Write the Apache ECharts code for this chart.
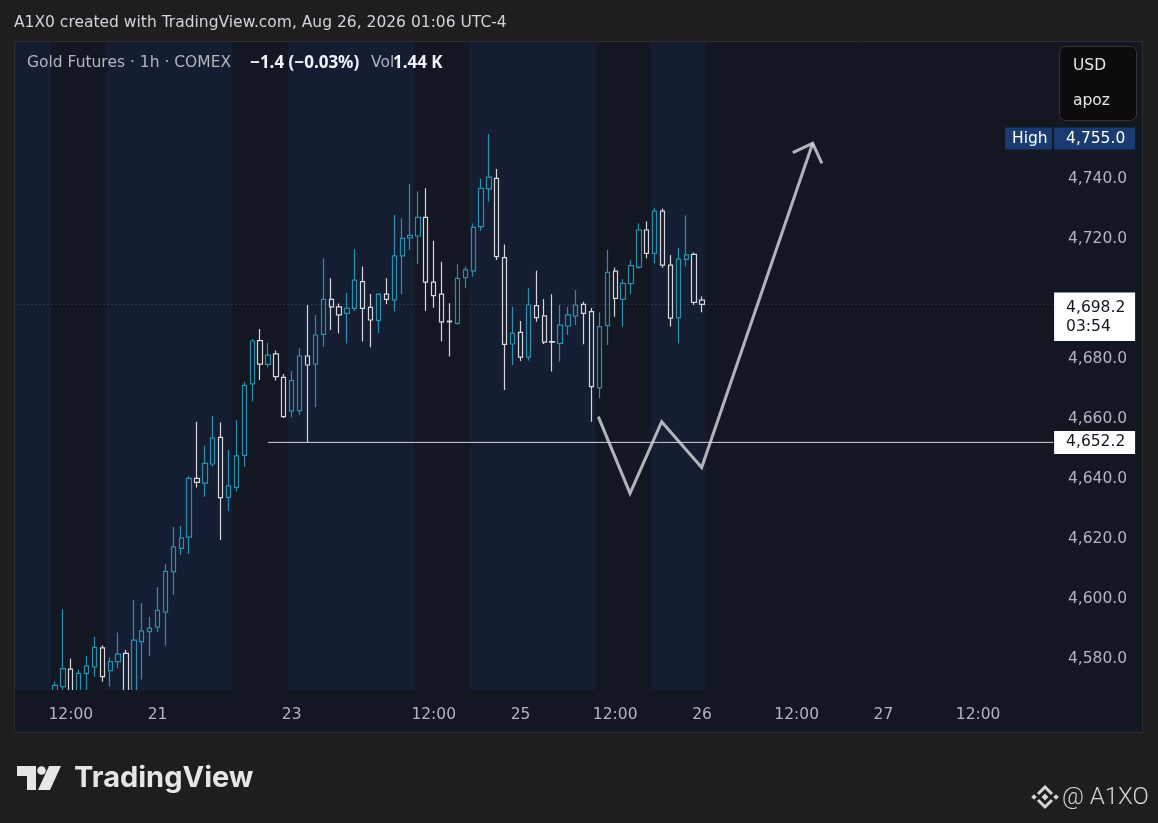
<!DOCTYPE html>
<html><head><meta charset="utf-8">
<script src="https://cdn.jsdelivr.net/npm/echarts@6/dist/echarts.min.js"></script>
<style>html,body{margin:0;padding:0;background:#1e1e1e;}#c{width:1158px;height:823px;}</style>
</head><body><div id="c"></div>
<script>
// ---------------- DATA ----------------
const firstCategory = [2026, 8, 20, 6];   // y, m, d, hour of first slot on the time axis
const categoryCount = 131;
const firstCandleTime = '08-20 10:00';
const opens  = [4567.0,4570.8,4576.6,4567.0,4575.2,4577.4,4583.7,4576.1,4579.1,4581.9,4567.5,4585.8,4589.1,4590.6,4595.6,4609.1,4616.9,4620.6,4640.2,4638.6,4645.0,4653.9,4633.9,4637.2,4647.9,4671.7,4686.1,4678.2,4681.7,4673.9,4662.7,4662.8,4681.0,4678.3,4688.2,4699.9,4697.4,4695.2,4696.9,4705.8,4697.2,4692.9,4701.6,4699.7,4714.4,4720.4,4721.0,4727.2,4705.6,4701.6,4692.6,4691.9,4707.1,4709.4,4724.1,4736.7,4740.2,4713.8,4685.0,4688.9,4680.6,4697.8,4694.4,4685.8,4685.2,4691.0,4694.3,4698.2,4695.8,4670.4,4691.1,4709.3,4699.9,4705.1,4710.6,4723.0,4715.2,4729.3,4711.3,4693.8,4713.2,4714.9,4699.6];
const closes = [4571.2,4576.8,4566.5,4575.2,4577.7,4583.9,4574.1,4579.1,4581.6,4567.5,4586.3,4589.4,4590.3,4596.2,4609.2,4617.4,4620.4,4640.2,4638.9,4645.2,4653.6,4633.8,4637.7,4647.7,4671.2,4686.0,4678.3,4681.3,4674.1,4660.8,4672.8,4681.0,4678.0,4688.0,4699.9,4697.4,4694.7,4696.9,4706.3,4696.9,4693.0,4701.6,4699.9,4714.4,4720.2,4721.2,4727.2,4705.6,4701.1,4692.4,4692.4,4706.9,4709.7,4723.9,4736.9,4740.6,4714.1,4684.9,4688.6,4680.6,4698.0,4693.8,4685.6,4685.6,4691.3,4694.7,4698.0,4695.2,4670.8,4690.8,4708.9,4700.2,4705.2,4711.1,4723.0,4715.2,4729.3,4711.3,4693.6,4713.3,4714.7,4698.9,4698.2];
const lows   = [4566.0,4569.5,4564.0,4565.0,4569.5,4574.1,4572.4,4570.8,4576.9,4565.0,4566.0,4573.2,4581.0,4589.0,4584.4,4601.3,4614.7,4615.0,4637.2,4634.1,4644.1,4619.7,4629.3,4635.8,4644.1,4665.8,4673.0,4677.2,4672.8,4660.3,4660.5,4661.3,4652.2,4663.9,4684.1,4689.7,4688.6,4685.2,4696.0,4685.8,4683.9,4688.6,4698.3,4695.8,4701.7,4716.3,4711.7,4696.0,4697.1,4685.8,4680.8,4691.5,4703.6,4707.4,4722.7,4732.4,4713.0,4669.7,4678.0,4679.3,4679.5,4692.4,4685.0,4675.8,4679.1,4688.0,4691.3,4684.9,4659.1,4666.9,4684.7,4694.1,4690.8,4701.6,4710.0,4713.6,4711.9,4710.4,4690.8,4685.2,4710.8,4698.0,4695.6];
const highs  = [4572.5,4596.6,4580.2,4576.5,4581.0,4587.4,4584.6,4580.5,4588.8,4583.0,4599.7,4598.6,4594.1,4603.9,4611.7,4624.1,4624.3,4641.0,4659.1,4651.1,4661.0,4658.8,4649.7,4659.7,4672.4,4686.6,4690.0,4685.4,4682.8,4675.0,4676.0,4683.6,4698.0,4694.7,4713.6,4706.9,4698.5,4702.1,4716.6,4710.8,4701.7,4702.0,4706.9,4728.0,4726.9,4738.3,4735.8,4736.9,4719.4,4712.4,4698.6,4711.6,4710.8,4725.2,4740.2,4755.0,4743.3,4718.2,4697.4,4692.7,4703.6,4709.4,4700.0,4701.6,4698.0,4697.4,4703.0,4699.1,4697.0,4695.6,4716.3,4710.5,4706.7,4713.0,4725.2,4725.8,4730.4,4730.2,4714.7,4717.1,4727.8,4715.5,4700.8];
const yTicks = [4580, 4600, 4620, 4640, 4660, 4680, 4720, 4740];
const xTickTimes = ['08-20 12:00','08-21 00:00','08-23 18:00','08-24 12:00','08-25 00:00','08-25 12:00','08-26 00:00','08-26 12:00','08-27 00:00','08-27 12:00'];
const supportLevel = 4652.2;
const supportAnchorTime = '08-21 14:00';
const lastPrice = 4698.2;
const countdown = '03:54';
const highPrice = 4755.0;
// hand-drawn projection: [slot position on time axis, price]
const zigzagPath = [[72.86,4660.8],[76.88,4635.2],[80.89,4659.1],[85.96,4643.8],[100.03,4751.9]];
const arrowHeadPath = [[97.5,4748.8],[100.03,4751.9],[101.2,4745.2]];
const yMin = 4569.667, yMax = 4785.667;

// ---------------- BUILD ----------------
const pad = n => String(n).padStart(2,'0');
function buildCategories(){
  const out = [];
  let t = Date.UTC(firstCategory[0], firstCategory[1]-1, firstCategory[2], firstCategory[3]);
  while (out.length < categoryCount) {
    const d = new Date(t), h = d.getUTCHours(), wd = d.getUTCDay();
    const closed = h === 17 || wd === 6 || (wd === 5 && h >= 17) || (wd === 0 && h < 18);
    if (!closed) out.push(pad(d.getUTCMonth()+1)+'-'+pad(d.getUTCDate())+' '+pad(h)+':00');
    t += 3600e3;
  }
  return out;
}
const categories = buildCategories();
const firstIdx = categories.indexOf(firstCandleTime);
const lastIdx = firstIdx + opens.length - 1;
const candleData = opens.map((o,k)=>[categories[firstIdx+k], o, closes[k], lows[k], highs[k]]);

// session shading (light = outside 10:00-16:59), only where bars exist
const bands = [];
let runStart = null;
for (let i = 0; i <= lastIdx + 1; i++) {
  const h = i <= lastIdx ? parseInt(categories[i].slice(6,8),10) : 10;
  const light = !(h >= 10 && h <= 16);
  if (light && runStart === null) runStart = i;
  if (!light && runStart !== null) { bands.push([{xAxis: runStart-0.5}, {xAxis: i-0.5}]); runStart = null; }
}

const FONT = 'DejaVu Sans';
const TXT = '#b2b5be';
const UP = '#2790ad', DOWN = '#d6d8de';
const PANEL = '#131722', BAND = '#151d33';
const fmtPrice = v => v.toLocaleString('en-US',{minimumFractionDigits:1, maximumFractionDigits:1});

const chart = echarts.init(document.getElementById('c'));
const supportStart = categories.indexOf(supportAnchorTime);

chart.setOption({
  animation: false,
  backgroundColor: '#1e1e1e',
  grid: {left: 19.5, right: 104.9, top: 42, bottom: 133, containLabel: false},
  xAxis: [{
    type: 'category', data: categories, boundaryGap: true, z: 30,
    axisLine: {show:false}, axisTick: {show:false}, splitLine:{show:false},
    axisLabel: {
      interval: (idx, val) => xTickTimes.indexOf(val) >= 0,
      formatter: v => v.slice(6) === '12:00' ? '12:00' : String(parseInt(v.slice(3,5),10)),
      color: TXT, fontFamily: FONT, fontSize: 15.5, margin: 17, hideOverlap: false
    }
  },{
    type: 'value', min: -0.5, max: categoryCount - 0.5, show: false
  }],
  yAxis: [{
    type: 'value', position: 'right', min: yMin, max: yMax, scale: true, z: 30,
    axisLine: {show:false}, axisTick: {show:false}, splitLine: {show:false},
    axisLabel: {
      customValues: yTicks, formatter: v => fmtPrice(v),
      color: TXT, fontFamily: FONT, fontSize: 15.5, align: 'right', margin: 74
    }
  }],
  series: [
    {
      name: 'sessions', type: 'line', xAxisIndex: 1, yAxisIndex: 0, z: 1, silent: true,
      data: [[0, 4600]], showSymbol: false, lineStyle: {opacity: 0},
      markArea: {silent: true, itemStyle: {color: BAND}, data: bands}
    },
    {
      name: 'Gold Futures', type: 'candlestick', xAxisIndex: 0, yAxisIndex: 0, z: 3,
      encode: {x: 0, y: [1,2,3,4]},
      data: candleData, barWidth: 4.8, clip: true,
      itemStyle: {color: 'rgba(0,0,0,0)', color0: 'rgba(0,0,0,0)', borderColor: UP, borderColor0: DOWN, borderWidth: 1.2},
      markLine: {
        silent: true, symbol: ['none','none'], label: {show:false},
        lineStyle: {type: [1,3], color: 'rgba(178,181,190,0.3)', width: 1},
        data: [{yAxis: lastPrice}]
      }
    },
    {
      name: 'support', type: 'line', xAxisIndex: 1, yAxisIndex: 0, z: 4, silent: true,
      showSymbol: false, lineStyle: {color: '#d1d4dc', width: 1},
      data: [[supportStart, supportLevel], [categoryCount - 0.5, supportLevel]]
    },
    {
      name: 'projection', type: 'line', xAxisIndex: 1, yAxisIndex: 0, z: 5, silent: true,
      showSymbol: false, lineStyle: {color: 'rgba(205,207,214,0.85)', width: 3, join: 'miter', cap: 'butt'},
      data: zigzagPath
    },
    {
      name: 'arrow', type: 'line', xAxisIndex: 1, yAxisIndex: 0, z: 5, silent: true,
      showSymbol: false, lineStyle: {color: 'rgba(205,207,214,0.85)', width: 3, join: 'miter'},
      data: arrowHeadPath
    }
  ]
});

// ---------- price-scale labels, header, footer ----------
const yp = v => chart.convertToPixel({yAxisIndex: 0}, v);
const plotLeft = chart.convertToPixel({xAxisIndex: 1}, -0.5);
const plotRight = chart.convertToPixel({xAxisIndex: 1}, categoryCount - 0.5);
const plotBottom = yp(yMin);
const bx = plotRight + 1, bw = 81, tx = plotRight + 13;
const yLast = yp(lastPrice), ySup = yp(supportLevel), yHigh = yp(highPrice);

chart.setOption({
  graphic: [
    {type:'rect', z:-10, shape:{x:14.5,y:41.5,width:1128,height:691}, style:{fill:PANEL, stroke:'#2b2e37', lineWidth:1}},
    // left sliver of the first shaded session
    {type:'rect', z:-9, shape:{x:15,y:42,width:plotLeft-15,height:plotBottom-42}, style:{fill:BAND}},
    // time-scale strip (hides candle parts below the plot)
    {type:'rect', z:25, shape:{x:15,y:plotBottom,width:plotRight-15,height:732-plotBottom}, style:{fill:PANEL}},
    {type:'text', x:14, y:23, style:{text:'A1X0 created with TradingView.com, Aug 26, 2026 01:06 UTC-4', fill:'#d1d4dc', fontFamily:FONT, fontSize:15.5, verticalAlign:'middle'}},
    {type:'text', x:27, y:63, z:20, style:{text:'Gold Futures · 1h · COMEX', fill:TXT, fontFamily:FONT, fontSize:15.5, verticalAlign:'middle'}},
    {type:'text', x:250, y:63, z:20, style:{text:'−1.4 (−0.03%)', fill:'#f0f3fa', fontFamily:'Noto Sans', fontWeight:'bold', fontSize:17, verticalAlign:'middle'}},
    {type:'text', x:371, y:63, z:20, style:{text:'Vol', fill:TXT, fontFamily:FONT, fontSize:15.5, verticalAlign:'middle'}},
    {type:'text', x:393, y:63, z:20, style:{text:'1.44 K', fill:'#f0f3fa', fontFamily:'Noto Sans', fontWeight:'bold', fontSize:17, verticalAlign:'middle'}},
    // USD / apoz
    {type:'rect', z:20, shape:{x:1059.5,y:46.5,width:77,height:74,r:6}, style:{fill:'#0c0c0d', stroke:'#33353b', lineWidth:1}},
    {type:'text', z:21, x:1073, y:66, style:{text:'USD', fill:'#e6e6e6', fontFamily:FONT, fontSize:15.5, verticalAlign:'middle'}},
    {type:'text', z:21, x:1073, y:101, style:{text:'apoz', fill:'#e6e6e6', fontFamily:FONT, fontSize:15.5, verticalAlign:'middle'}},
    // High
    {type:'rect', z:20, shape:{x:1005,y:yHigh-6.5,width:47,height:22}, style:{fill:'#1b3a70'}},
    {type:'rect', z:20, shape:{x:bx,y:yHigh-6.5,width:bw,height:22}, style:{fill:'#1b3a70'}},
    {type:'text', z:21, x:1012, y:yHigh+4.5, style:{text:'High', fill:'#ffffff', fontFamily:FONT, fontSize:15.5, verticalAlign:'middle'}},
    {type:'text', z:21, x:tx, y:yHigh+4.5, style:{text:fmtPrice(highPrice), fill:'#ffffff', fontFamily:FONT, fontSize:15.5, verticalAlign:'middle'}},
    // last price
    {type:'rect', z:20, shape:{x:bx,y:yLast-12,width:bw,height:48.5}, style:{fill:'#ffffff'}},
    {type:'text', z:21, x:tx, y:yLast+4, style:{text:fmtPrice(lastPrice), fill:'#131722', fontFamily:FONT, fontSize:15.5, verticalAlign:'middle'}},
    {type:'text', z:21, x:tx, y:yLast+22.5, style:{text:countdown, fill:'#131722', fontFamily:FONT, fontSize:15.5, verticalAlign:'middle'}},
    // support level
    {type:'rect', z:20, shape:{x:bx,y:ySup-11.5,width:bw,height:23}, style:{fill:'#ffffff'}},
    {type:'text', z:21, x:tx, y:ySup, style:{text:fmtPrice(supportLevel), fill:'#131722', fontFamily:FONT, fontSize:15.5, verticalAlign:'middle'}},
    // TradingView footer logo
    {type:'polygon', shape:{points:[[17,766],[36,766],[36,790],[27,790],[27,776],[17,776]]}, style:{fill:'#e6e6e6'}},
    {type:'circle', shape:{cx:41.5,cy:770.5,r:4.3}, style:{fill:'#e6e6e6'}},
    {type:'polygon', shape:{points:[[49,766],[61,766],[50,790],[38,790]]}, style:{fill:'#e6e6e6'}},
    {type:'text', x:74, y:778, style:{text:'TradingView', fill:'#e6e6e6', fontFamily:'Inter', fontWeight:'bold', fontSize:29, verticalAlign:'middle'}},
    // Binance-style mark + handle
    {type:'polyline', shape:{points:[[1038,794],[1045,787],[1052,794]]}, style:{stroke:'#d6d6d6', lineWidth:3, fill:null}},
    {type:'polyline', shape:{points:[[1038,800],[1045,807],[1052,800]]}, style:{stroke:'#d6d6d6', lineWidth:3, fill:null}},
    {type:'rect', x:1045, y:797, rotation:Math.PI/4, shape:{x:-2.5,y:-2.5,width:5,height:5}, style:{fill:'#d6d6d6'}},
    {type:'rect', x:1034, y:797, rotation:Math.PI/4, shape:{x:-2,y:-2,width:4,height:4}, style:{fill:'#d6d6d6'}},
    {type:'rect', x:1056, y:797, rotation:Math.PI/4, shape:{x:-2,y:-2,width:4,height:4}, style:{fill:'#d6d6d6'}},
    {type:'text', x:1062, y:798, style:{text:'@ A1XO', fill:'#d6d6d6', fontFamily:'Roboto', fontWeight:300, fontSize:24, verticalAlign:'middle'}}
  ]
});
</script>
</body></html>
